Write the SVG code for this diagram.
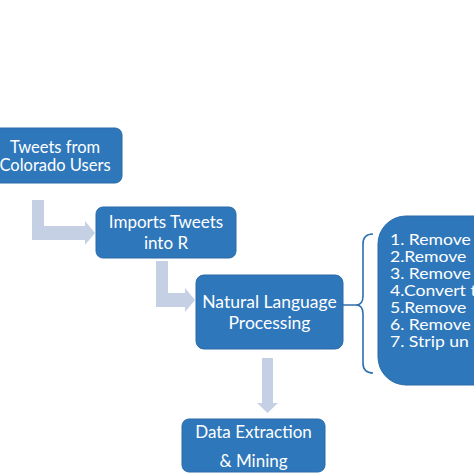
<svg xmlns="http://www.w3.org/2000/svg" width="474" height="474" viewBox="0 0 474 474">
<style>
.box{fill:#2E77BB;stroke:#2A6AA8;stroke-width:1}
.t{font-family:Lato,"Open Sans","Liberation Sans",sans-serif;fill:#fff;font-size:17px;text-anchor:middle}
.l{font-family:Lato,"Open Sans","Liberation Sans",sans-serif;fill:#fff;font-size:16px}
.c{fill:#C5D0E4;stroke:none}
.br{fill:none;stroke:#2E6FAF;stroke-width:1.6}
</style>
<rect width="474" height="474" fill="#fff"/>
<g id="connectors">
<path class="c" d="M32 200 H44 V226 H85 V221 L95 233 L85 245 V240 H32 Z"/>
<path class="c" d="M156 261 H168 V293 H185 V288 L195 300 L185 312 V307 H156 Z"/>
<path class="c" d="M262 358 H273 V403 H278 L267.5 413 L257 403 H262 Z"/>
<path class="br" d="M343 305 H356 M373 234 Q363 234 363 244 V296 Q363 305 356 305 Q363 305 363 314 V363 Q363 373 373 373"/>
</g>
<g id="n1">
<rect class="box" x="-10" y="128" width="132" height="55" rx="7"/>
<text class="t" x="55" y="153" style="font-size:16.5px">Tweets from</text>
<text class="t" x="55" y="171" style="font-size:16.5px">Colorado Users</text>
</g>
<g id="n2">
<rect class="box" x="96" y="207" width="140" height="51" rx="7"/>
<text class="t" x="166" y="228">Imports Tweets</text>
<text class="t" x="166" y="249">into R</text>
</g>
<g id="n3">
<rect class="box" x="196" y="275" width="147" height="74" rx="8"/>
<text class="t" x="269.5" y="308" style="font-size:17.5px">Natural Language</text>
<text class="t" x="269.5" y="329" style="font-size:17.5px">Processing</text>
</g>
<g id="n4">
<rect class="box" x="378" y="216" width="130" height="169" rx="28"/>
<g transform="translate(390,0) scale(1.1,1)">
<text class="l" x="0" y="245">1. Remove</text>
<text class="l" x="0" y="262">2.Remove</text>
<text class="l" x="0" y="279">3. Remove</text>
<text class="l" x="0" y="296">4.Convert t</text>
<text class="l" x="0" y="313">5.Remove</text>
<text class="l" x="0" y="330">6. Remove</text>
<text class="l" x="0" y="347">7. Strip un</text>
</g>
</g>
<g id="n5">
<rect class="box" x="182" y="419" width="143" height="53" rx="7"/>
<text class="t" x="253.5" y="438">Data Extraction</text>
<text class="t" x="253.5" y="467">&amp; Mining</text>
</g>
</svg>
